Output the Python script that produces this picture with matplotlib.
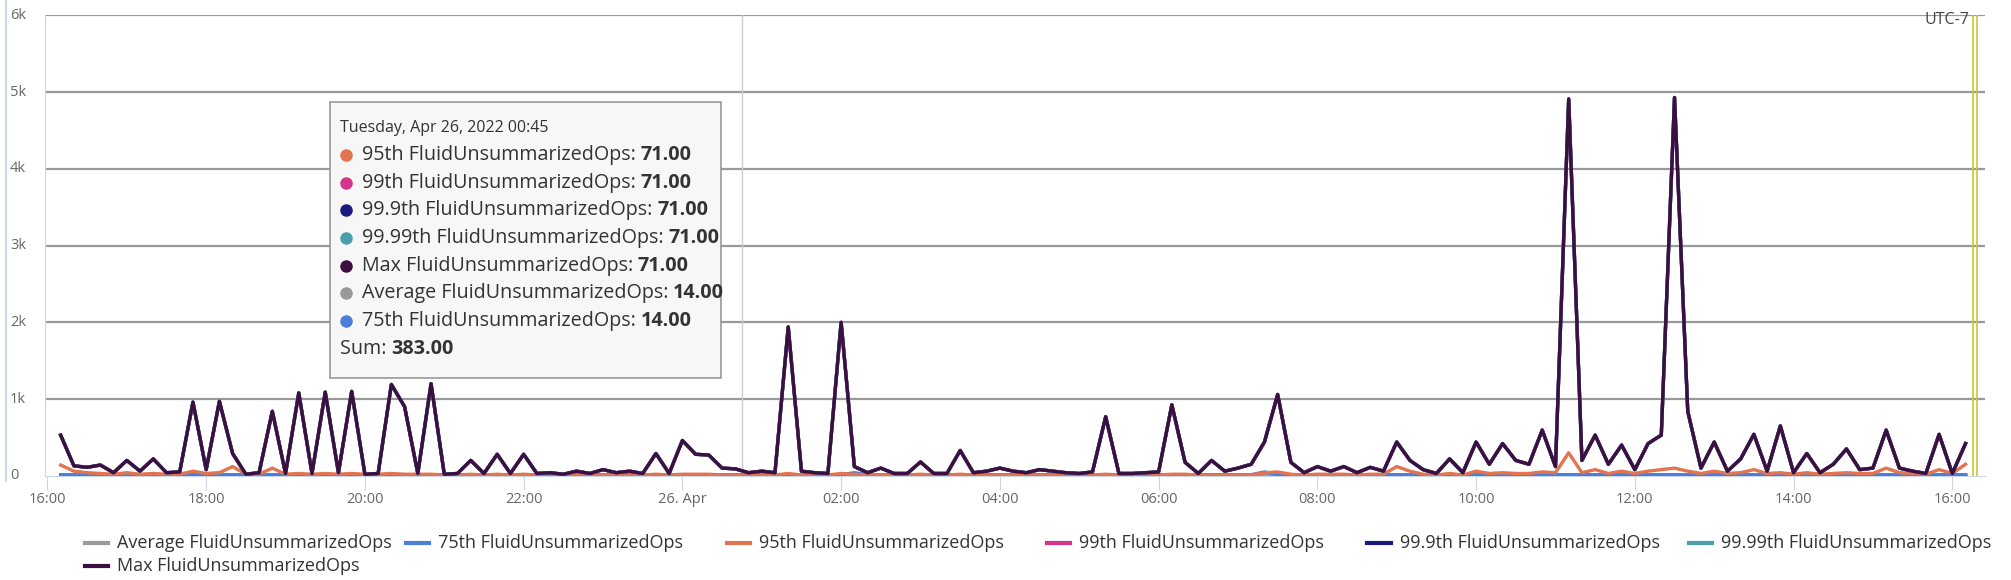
import matplotlib
matplotlib.use("Agg")
import matplotlib.pyplot as plt
from matplotlib.patches import FancyBboxPatch
from matplotlib.lines import Line2D
import numpy as np

plt.rcParams['font.family'] = ['Open Sans', 'DejaVu Sans']

# hours since 16:00, 10-minute samples starting 16:10
max_ops = [530,130,110,140,40,200,
           60,220,40,50,960,80,
           970,290,20,40,840,30,
           1080,30,1090,40,1100,20,
           30,1190,900,30,1200,20,
           30,200,30,280,30,280,
           30,40,20,60,30,80,
           40,60,30,290,30,460,
           280,270,100,90,40,60,
           40,1940,60,40,30,2000,
           120,40,100,30,30,180,
           30,30,330,40,60,100,
           60,40,80,60,40,30,
           50,770,30,30,40,50,
           925,175,30,200,60,100,
           150,440,1060,175,40,120,
           60,120,40,110,60,440,
           200,80,30,220,40,440,
           150,420,200,150,595,120,
           4910,200,530,150,400,80,
           420,530,4930,840,100,440,
           60,220,540,60,650,40,
           290,40,150,350,80,100,
           595,100,60,30,540,30,
           420]
p95_ops = [140,60,40,30,20,40,
           20,30,20,20,60,30,
           40,120,20,20,100,20,
           30,20,30,20,30,20,
           20,30,20,20,20,10,
           10,20,10,20,10,20,
           10,10,10,10,10,10,
           10,10,10,20,10,20,
           20,20,10,10,10,10,
           10,30,10,10,10,30,
           20,10,10,10,10,20,
           10,10,20,10,10,10,
           10,10,10,10,10,10,
           10,20,10,10,10,10,
           20,20,10,10,10,10,
           10,40,50,20,10,20,
           20,20,10,20,20,120,
           60,20,10,30,10,60,
           30,40,30,30,50,40,
           300,40,80,30,60,30,
           60,80,100,60,30,60,
           30,40,80,30,40,20,
           40,20,30,40,30,30,
           100,40,30,20,80,30,
           150]
p75_ops = [14]*60 + [40] + [14]*30 + [50] + [14]*53
avg_ops = [10]*145
t_hours = [(k + 1) / 6 for k in range(len(max_ops))]

tick_pos = [0, 2, 4, 6, 8, 10, 12, 14, 16, 18, 20, 22, 24]
tick_labels = ["16:00", "18:00", "20:00", "22:00", "26. Apr", "02:00", "04:00",
               "06:00", "08:00", "10:00", "12:00", "14:00", "16:00"]
y_ticks = [0, 1000, 2000, 3000, 4000, 5000, 6000]
y_labels = ["0", "1k", "2k", "3k", "4k", "5k", "6k"]

series = [
    ("Average FluidUnsummarizedOps", avg_ops, "#999999"),
    ("75th FluidUnsummarizedOps", p75_ops, "#4a7fd9"),
    ("95th FluidUnsummarizedOps", p95_ops, "#e2744f"),
    ("99th FluidUnsummarizedOps", max_ops, "#d6338a"),
    ("99.9th FluidUnsummarizedOps", max_ops, "#1c1a80"),
    ("99.99th FluidUnsummarizedOps", max_ops, "#4aa0aa"),
    ("Max FluidUnsummarizedOps", max_ops, "#3b0f40"),
]

fig = plt.figure(figsize=(20.11, 5.8), dpi=100)
ax = fig.add_axes([0.0224, 0.1797, 0.987 - 0.0224, 0.9734 - 0.1797])
ax.set_xlim(-0.03, 24.41)
ax.set_ylim(0, 6000)
for y in y_ticks[1:]:
    ax.axhline(y, color="#999999", lw=1.6, zorder=0)
ax.axvline(8.75, color="#cccccc", lw=1, zorder=0)
ax.axvline(24.26, color="#c8c832", lw=1.2, zorder=5)
ax.axvline(24.31, color="#c8c832", lw=1.2, zorder=5)

draw_order = [0, 1, 2, 3, 5, 4, 6]
for i in draw_order:
    name, vals, col = series[i]
    ax.plot(t_hours, vals, color=col, lw=2.4, zorder=2 + i)

for s in ["top", "right"]:
    ax.spines[s].set_visible(False)
ax.spines["left"].set_color("#ccd6eb")
ax.spines["bottom"].set_color("#ccd6eb")
ax.set_xticks(tick_pos)
ax.set_xticklabels(tick_labels, fontsize=10.5, color="#666666")
ax.tick_params(axis="x", length=10, color="#ccd6eb", pad=2)
ax.set_yticks(y_ticks)
ax.set_yticklabels([])
ax.tick_params(axis="y", length=0)
for y, lab in zip(y_ticks, y_labels):
    fig.text(0.005, ax.transData.transform((0, y))[1] / 580, lab, ha="left",
             va="center", fontsize=10.5, color="#666666")
fig.text(0.9795, 0.965, "UTC-7", ha="right", va="center", fontsize=11.5, color="#444444")
fig.add_artist(Line2D([0.003, 0.003], [0.17, 1.0], color="#ccd6eb", lw=1.5))

# tooltip
box = FancyBboxPatch((0.164, 0.3489), 0.1947, 0.4758, boxstyle="square,pad=0",
                     transform=fig.transFigure, facecolor="#f7f7f7",
                     edgecolor="#999999", lw=1.2, zorder=20)
fig.add_artist(box)
fig.text(0.169, 0.780, "Tuesday, Apr 26, 2022 00:45", fontsize=11.5, color="#333333", zorder=21, va="center")
tip = [("95th FluidUnsummarizedOps: ", "71.00", "#e2744f"),
       ("99th FluidUnsummarizedOps: ", "71.00", "#d6338a"),
       ("99.9th FluidUnsummarizedOps: ", "71.00", "#1c1a80"),
       ("99.99th FluidUnsummarizedOps: ", "71.00", "#4aa0aa"),
       ("Max FluidUnsummarizedOps: ", "71.00", "#3b0f40"),
       ("Average FluidUnsummarizedOps: ", "14.00", "#999999"),
       ("75th FluidUnsummarizedOps: ", "14.00", "#4a7fd9")]
r = fig.canvas.get_renderer()
for i, (lab, val, col) in enumerate(tip):
    y = 0.7328 - i * 0.0477
    fig.add_artist(Line2D([0.1722], [y], marker="o", ms=8, color=col, lw=0, zorder=21))
    t = fig.text(0.1798, y, lab, fontsize=14.2, color="#333333", va="center", zorder=21)
    bb = t.get_window_extent(r)
    fig.text(bb.x1 / 2011, y, val, fontsize=14.2, color="#333333", weight="bold", va="center", zorder=21)
y = 0.7328 - 7 * 0.0477
t = fig.text(0.169, y, "Sum: ", fontsize=14.2, color="#333333", va="center", zorder=21)
bb = t.get_window_extent(r)
fig.text(bb.x1 / 2011, y, "383.00", fontsize=14.2, color="#333333", weight="bold", va="center", zorder=21)

# legend
leg_x = [0.0582, 0.2178, 0.3774, 0.5366, 0.6960, 0.8558, 0.0582]
leg_y = [0.0635] * 6 + [0.024]
for (name, vals, col), lx, ly in zip(series, leg_x, leg_y):
    fig.add_artist(Line2D([lx - 0.0160, lx - 0.0045], [ly, ly], color=col, lw=3))
    fig.text(lx, ly, name, fontsize=13, color="#333333", va="center")

fig.savefig("out.png", dpi=100, facecolor="white")
